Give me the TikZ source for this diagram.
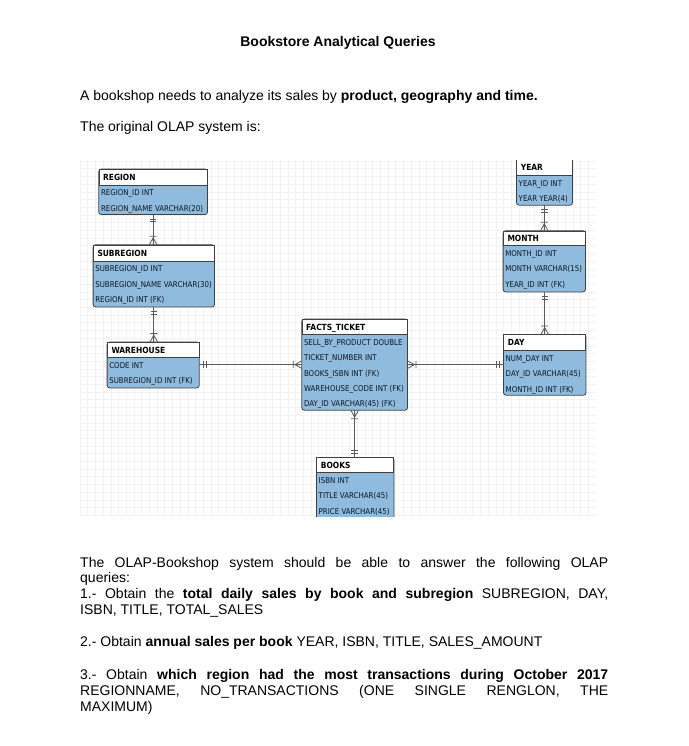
\documentclass[tikz,border=0pt]{standalone}
\usepackage{fontspec}
\setmainfont{Liberation Sans}
\newfontfamily\erfont[FakeStretch=0.88]{DejaVu Sans}
\usetikzlibrary{fit}
\definecolor{erblue}{RGB}{143,187,222}
\definecolor{erborder}{RGB}{64,64,64}
\definecolor{erconncol}{RGB}{90,90,90}
\definecolor{gridcol}{RGB}{242,242,242}
\definecolor{errowtext}{RGB}{15,22,30}
\tikzset{
  erline/.style={draw=erborder, line width=0.8pt},
  erconn/.style={draw=erconncol, line width=0.8pt},
  gridline/.style={draw=gridcol, line width=0.45pt},
  ertitle/.style={anchor=base west, inner sep=0pt, font=\erfont\bfseries\fontsize{8.5}{10}\selectfont, text=black},
  errow/.style={anchor=base west, inner sep=0pt, font=\erfont\fontsize{8}{9}\selectfont, text=errowtext},
  txt/.style={inner sep=0pt, font=\fontsize{14}{16}\selectfont, text=black},
}
% name, L, T, R, H, B, title, rows
\newcommand\erentity[8]{%
  \node[fit={(#2,#3) (#4,#6)}, inner sep=0pt] (#1) {};
  \draw[erline, fill=erblue, rounded corners=2.5pt] (#1.north west) rectangle (#1.south east);
  \draw[erline, fill=white] (#2,#3) rectangle (#4,#5);
  \node[ertitle] (#1-title) at ({#2+4},{(#3+#5)/2+3.1}) {#7};
  \foreach \r [count=\i] in {#8} {\node[errow] (#1-row\i) at ({#2+1.8},{#5+7.9+15.3*(\i-1)+2.9}) {\r};}
}
\newcommand\markone[2]{%
  \begin{scope}[shift={(#1)}, rotate=#2]
    \draw[erconn] (4.5,-3.2) -- (4.5,3.2) (7,-3.2) -- (7,3.2);
  \end{scope}}
\newcommand\markmany[2]{%
  \begin{scope}[shift={(#1)}, rotate=#2]
    \draw[erconn] (0,-3.8) -- (7,0) -- (0,3.8) (0,0) -- (7,0) (8.5,-3.5) -- (8.5,3.5);
  \end{scope}}
\begin{document}
\begin{tikzpicture}[x=1pt, y=-1pt]
\fill[white] (0,0) rectangle (688,746);
\useasboundingbox (0,0) rectangle (688,746);

% texts
\node[txt, anchor=base] (title) at (338,47) {\bfseries Bookstore Analytical Queries};
\node[txt, anchor=base west] (intro) at (80,101) {A bookshop needs to analyze its sales by \textbf{product, geography and time.}};
\node[txt, anchor=base west] (orig) at (80,132) {The original OLAP system is:};

\node[txt, anchor=base west] (q0a) at (80,567) {\makebox[528pt][s]{The OLAP-Bookshop system should be able to answer the following OLAP}};
\node[txt, anchor=base west] (q0b) at (80,582) {queries:};
\node[txt, anchor=base west] (q1a) at (80,598) {\makebox[528pt][s]{1.- Obtain the \textbf{total daily sales by book and subregion} SUBREGION, DAY,}};
\node[txt, anchor=base west] (q1b) at (80,614) {ISBN, TITLE, TOTAL\_SALES};
\node[txt, anchor=base west] (q2) at (80,646) {2.- Obtain \textbf{annual sales per book} YEAR, ISBN, TITLE, SALES\_AMOUNT};
\node[txt, anchor=base west] (q3a) at (80,679) {\makebox[528pt][s]{3.- Obtain \textbf{which region had the most transactions during October 2017}}};
\node[txt, anchor=base west] (q3b) at (80,695) {\makebox[528pt][s]{REGIONNAME, NO\_TRANSACTIONS (ONE SINGLE RENGLON, THE}};
\node[txt, anchor=base west] (q3c) at (80,711) {MAXIMUM)};

% diagram
\begin{scope}
\clip (80,160.3) rectangle (596,516);
\foreach \gx in {80,87.7,...,596} \draw[gridline] (\gx,160.3) -- (\gx,516);
\foreach \gy in {161,168.7,...,516} \draw[gridline] (80,\gy) -- (596,\gy);

\erentity{region}{99}{169.3}{207.3}{185}{214.3}{REGION}{REGION\_ID INT, REGION\_NAME VARCHAR(20)}
\erentity{subregion}{93.3}{245}{214.3}{261}{306.7}{SUBREGION}{SUBREGION\_ID INT, SUBREGION\_NAME VARCHAR(30), REGION\_ID INT (FK)}
\erentity{warehouse}{107.3}{342.3}{199}{357.7}{387.7}{WAREHOUSE}{CODE INT, SUBREGION\_ID INT (FK)}
\erentity{facts}{302}{319.3}{407.3}{334.7}{410}{FACTS\_TICKET}{SELL\_BY\_PRODUCT DOUBLE, TICKET\_NUMBER INT, BOOKS\_ISBN INT (FK), WAREHOUSE\_CODE INT (FK), DAY\_ID VARCHAR(45) (FK)}
\erentity{books}{316.7}{457.7}{393.7}{472.7}{525}{BOOKS}{ISBN INT, TITLE VARCHAR(45), PRICE VARCHAR(45)}
\erentity{year}{516.7}{159.7}{572.3}{175.7}{205}{YEAR}{YEAR\_ID INT, YEAR YEAR(4)}
\erentity{month}{503.3}{231}{585.3}{245.7}{291.7}{MONTH}{MONTH\_ID INT, MONTH VARCHAR(15), YEAR\_ID INT (FK)}
\erentity{day}{503.7}{334.7}{585.7}{350.7}{395}{DAY}{NUM\_DAY INT, DAY\_ID VARCHAR(45), MONTH\_ID INT (FK)}

% connectors
\draw[erconn] (region.south) -- (region.south |- subregion.north);
\markone{region.south}{270}
\markmany{region.south |- subregion.north}{90}

\draw[erconn] (subregion.south) -- (subregion.south |- warehouse.north);
\markone{subregion.south}{270}
\markmany{subregion.south |- warehouse.north}{90}

\draw[erconn] (facts.west -| warehouse.east) -- (facts.west);
\markone{facts.west -| warehouse.east}{0}
\markmany{facts.west}{180}

\draw[erconn] (facts.east) -- (facts.east -| day.west);
\markmany{facts.east}{0}
\markone{facts.east -| day.west}{180}

\draw[erconn] (day.north) -- (day.north |- month.south);
\markmany{day.north}{90}
\markone{day.north |- month.south}{270}

\draw[erconn] (month.north) -- (month.north |- year.south);
\markmany{month.north}{90}
\markone{month.north |- year.south}{270}

\draw[erconn] (facts.south) -- (facts.south |- books.north);
\markmany{facts.south}{270}
\markone{facts.south |- books.north}{90}
\end{scope}
\end{tikzpicture}
\end{document}
